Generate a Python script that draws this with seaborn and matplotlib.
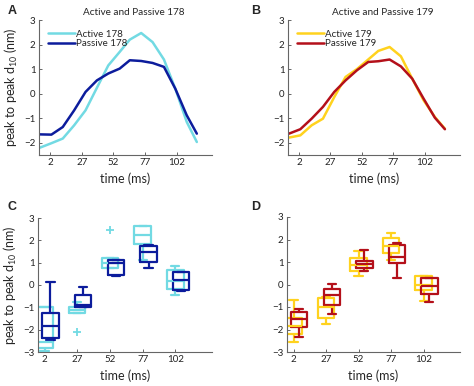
import numpy as np
import pandas as pd
import matplotlib
matplotlib.use("Agg")
import matplotlib.pyplot as plt
import seaborn as sns

# ---------------- data ----------------
time_ms = [-6, 3, 12, 21, 30, 39, 48, 57, 65, 74, 83, 92, 101, 110, 118]
active_178 = [-2.2, -2.02, -1.83, -1.29, -0.68, 0.24, 1.15, 1.7, 2.2, 2.47, 2.1, 1.39, 0.2, -1.15, -1.97]
passive_178 = [-1.66, -1.67, -1.36, -0.68, 0.07, 0.54, 0.82, 1.02, 1.36, 1.33, 1.25, 1.09, 0.2, -0.88, -1.63]
active_179 = [-1.79, -1.7, -1.29, -1.02, -0.14, 0.68, 1.0, 1.39, 1.74, 1.9, 1.52, 0.61, -0.27, -0.95, -1.43]
passive_179 = [-1.63, -1.45, -1.02, -0.54, 0.07, 0.54, 0.95, 1.29, 1.32, 1.39, 1.11, 0.61, -0.2, -0.98, -1.45]

box_times = [2, 27, 52, 77, 102]
tick_labels = ["2", "27", "52", "77", "102"]
# five-number summaries per time: [whisker low, q1, median, q3, whisker high]
box_active_178 = [[-2.95, -2.8, -2.55, -0.98, -0.98],
                  [-1.25, -1.25, -1.1, -1.0, -0.75],
                  [0.76, 0.76, 0.98, 1.2, 1.2],
                  [1.1, 1.84, 2.25, 2.66, 2.66],
                  [-0.46, -0.16, 0.16, 0.66, 0.86]]
box_passive_178 = [[-2.48, -2.37, -1.82, -1.25, 0.12],
                   [-0.99, -0.99, -0.88, -0.45, -0.1],
                   [0.42, 0.46, 1.0, 1.13, 1.13],
                   [0.76, 1.03, 1.46, 1.76, 1.8],
                   [-0.25, -0.21, 0.21, 0.57, 0.57]]
box_active_179 = [[-2.57, -2.22, -1.85, -1.48, -0.67],
                  [-1.75, -1.48, -1.0, -0.58, -0.55],
                  [0.4, 0.6, 0.87, 1.16, 1.51],
                  [1.1, 1.39, 1.69, 2.06, 2.28],
                  [-0.73, -0.25, 0.0, 0.37, 0.4]]
box_passive_179 = [[-2.34, -1.9, -1.52, -1.22, -1.07],
                   [-1.3, -0.93, -0.48, -0.18, 0.04],
                   [0.6, 0.72, 0.91, 1.06, 1.54],
                   [0.3, 0.94, 1.24, 1.76, 1.84],
                   [-0.78, -0.43, -0.07, 0.27, 0.3]]
outlier_active_178_t = [27, 52]
outlier_active_178_v = [-2.12, 2.48]

C_ACT178 = "#72dae3"
C_PAS178 = "#0c1c9c"
C_ACT179 = "#ffd21e"
C_PAS179 = "#b4101a"

# ---------------- style ----------------
sns.set_style("ticks")
plt.rcParams["font.family"] = ["Lato", "DejaVu Sans"]
plt.rcParams["mathtext.fontset"] = "custom"
plt.rcParams["mathtext.rm"] = "Lato"
plt.rcParams["mathtext.it"] = "Lato:italic"
SPINE = "#666666"

fig = plt.figure(figsize=(4.74, 3.86), dpi=100)
W, H = 474.0, 386.0

def make_ax(l, r, t, b):
    return fig.add_axes([l / W, 1 - b / H, (r - l) / W, (b - t) / H])

axA = make_ax(39, 212, 20, 155)
axB = make_ax(288, 460, 20, 155)
axC = make_ax(38, 212, 218, 352)
axD = make_ax(287, 460, 217, 352)

def style_ax(ax):
    sns.despine(ax=ax)
    for s in ["left", "bottom"]:
        ax.spines[s].set_color(SPINE)
        ax.spines[s].set_linewidth(0.8)
    ax.tick_params(direction="in", length=2.5, width=0.7, color=SPINE,
                   labelsize=7, labelcolor="#222222", pad=2.5)
    ax.set_xticks(box_times)
    ax.set_xticklabels(tick_labels)
    ax.set_xlabel("time (ms)", fontsize=9, labelpad=3.5)
    ax.set_ylabel("")

def line_panel(ax, act, pas, name_a, name_p, ca, cp, title):
    n = len(time_ms)
    df = pd.DataFrame({"time": time_ms * 2, "value": act + pas,
                       "series": [name_a] * n + [name_p] * n})
    sns.lineplot(data=df, x="time", y="value", hue="series",
                 palette={name_a: ca, name_p: cp}, linewidth=1.8, ax=ax)
    sns.move_legend(ax, "upper left", bbox_to_anchor=(0.02, 0.97), title=None,
                    frameon=False, fontsize=7, handlelength=2.7,
                    handletextpad=0.15, labelspacing=0.05, borderaxespad=0.2)
    ax.set_xlim(-6.8, 130)
    ax.set_ylim(-2.5, 3)
    ax.set_yticks([-2, -1, 0, 1, 2, 3])
    ax.set_title(title, fontsize=7.2, x=0.55, pad=3.5)
    style_ax(ax)

def box_frame(stats, times, offset):
    rows = []
    for t, s in zip(times, stats):
        for v in s:
            rows.append((t + offset, v))
    return pd.DataFrame(rows, columns=["time", "value"])

def box_panel(ax, act_stats, pas_stats, ca, cp):
    for stats, c, off in [(act_stats, ca, 0.0), (pas_stats, cp, 4.5)]:
        df = box_frame(stats, box_times, off)
        sns.boxplot(data=df, x="time", y="value", native_scale=True, orient="x",
                    fill=False, color=c, width=0.5, linewidth=1.6,
                    whis=(0, 100), ax=ax)
    ax.set_xlim(-3, 130)
    ax.set_ylim(-3, 3)
    ax.set_yticks([-3, -2, -1, 0, 1, 2, 3])
    style_ax(ax)

line_panel(axA, active_178, passive_178, "Active 178", "Passive 178",
           C_ACT178, C_PAS178, "Active and Passive 178")
line_panel(axB, active_179, passive_179, "Active 179", "Passive 179",
           C_ACT179, C_PAS179, "Active and Passive 179")

box_panel(axC, box_active_178, box_passive_178, C_ACT178, C_PAS178)
sns.scatterplot(x=outlier_active_178_t, y=outlier_active_178_v, marker="+",
                color=C_ACT178, s=30, linewidth=1.3, ax=axC, zorder=5)
box_panel(axD, box_active_179, box_passive_179, C_ACT179, C_PAS179)

ylab = "peak to peak d$_{10}$ (nm)"
axA.set_ylabel(ylab, fontsize=9, labelpad=3)
axC.set_ylabel(ylab, fontsize=9, labelpad=3)

for txt, x, y in [("A", 8, 14), ("B", 251, 14), ("C", 8, 210), ("D", 251, 210)]:
    fig.text(x / W, 1 - y / H, txt, fontsize=9, fontweight="bold",
             family=["Liberation Sans", "DejaVu Sans"], va="baseline")

fig.savefig("out.png", dpi=100)
